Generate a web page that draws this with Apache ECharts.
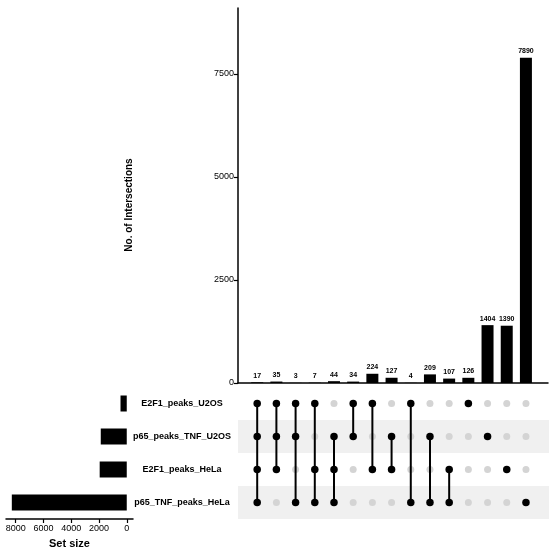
<!DOCTYPE html>
<html>
<head>
<meta charset="utf-8">
<script src="https://cdn.jsdelivr.net/npm/echarts@6/dist/echarts.min.js"></script>
<style>html,body{margin:0;padding:0;background:#fff;}#c{width:549px;height:550px;}</style>
</head>
<body>
<div id="c"></div>
<script>
const sets = ['E2F1_peaks_U2OS', 'p65_peaks_TNF_U2OS', 'E2F1_peaks_HeLa', 'p65_TNF_peaks_HeLa'];
const setSizes = [450, 1873, 1951, 8281];
const intersectionSizes = [17, 35, 3, 7, 44, 34, 224, 127, 4, 209, 107, 126, 1404, 1390, 7890];
const memberships = [[0,1,2,3],[0,1,2],[0,1,3],[0,2,3],[1,2,3],[0,1],[0,2],[1,2],[0,3],[1,3],[2,3],[0],[1],[2],[3]];
const countTicks = [0, 2500, 5000, 7500];
const sizeTicks = [0, 2000, 4000, 6000, 8000];

const FONT = "'Liberation Sans', Arial, Helvetica, sans-serif";
const rowsBottomUp = sets.slice().reverse();
const catOf = r => sets.length - 1 - r;

const barData = intersectionSizes.map((v, i) => [i, v]);
const grayDots = [], blackDots = [], links = [];
memberships.forEach((m, i) => {
  for (let r = 0; r < sets.length; r++) {
    if (m.indexOf(r) >= 0) blackDots.push([i, catOf(r)]);
    else grayDots.push([i, catOf(r)]);
  }
  if (m.length > 1) {
    const cats = m.map(catOf);
    links.push([i, Math.min.apply(null, cats), Math.max.apply(null, cats)]);
  }
});
const sizeData = sets.map((s, r) => [setSizes[r], catOf(r)]);
const plain = v => String(v);

const chart = echarts.init(document.getElementById('c'), null, {renderer: 'canvas'});
chart.setOption({
  animation: false,
  backgroundColor: '#fff',
  textStyle: {fontFamily: FONT},
  grid: [
    {left: 238, top: 8, width: 310, height: 375},
    {left: 238, top: 387, width: 311, height: 132},
    {left: 6, top: 387, width: 127, height: 132}
  ],
  xAxis: [
    {type: 'value', gridIndex: 0, min: -1, max: 15.15,
      axisLine: {show: true, onZero: false, lineStyle: {color: '#000', width: 1.5}},
      axisTick: {show: false}, axisLabel: {show: false}, splitLine: {show: false}},
    {type: 'value', gridIndex: 1, min: -1, max: 15.2,
      axisLine: {show: false}, axisTick: {show: false}, axisLabel: {show: false}, splitLine: {show: false}},
    {type: 'value', gridIndex: 2, inverse: true, min: -450, max: 8700, position: 'bottom',
      axisLine: {show: true, onZero: false, lineStyle: {color: '#000', width: 1.5}},
      axisTick: {show: true, length: 4, customValues: sizeTicks, lineStyle: {color: '#000', width: 1.2}},
      axisLabel: {show: true, customValues: sizeTicks, formatter: plain, fontSize: 9, color: '#000', margin: 5, fontFamily: FONT},
      splitLine: {show: false},
      name: 'Set size', nameLocation: 'middle', nameGap: 19,
      nameTextStyle: {fontSize: 11, fontWeight: 'bold', color: '#000', fontFamily: FONT}}
  ],
  yAxis: [
    {type: 'value', gridIndex: 0, min: 0, max: 9100,
      axisLine: {show: true, onZero: false, lineStyle: {color: '#000', width: 1.5}},
      axisTick: {show: true, length: 4, customValues: countTicks, lineStyle: {color: '#000', width: 1.2}},
      axisLabel: {show: true, customValues: countTicks, formatter: plain, fontSize: 9, color: '#000', margin: 4, fontFamily: FONT},
      splitLine: {show: false}},
    {type: 'category', gridIndex: 1, data: rowsBottomUp,
      axisLine: {show: false}, axisTick: {show: false},
      axisLabel: {show: true, align: 'center', margin: 56, fontSize: 9, fontWeight: 'bold', color: '#000', fontFamily: FONT},
      splitLine: {show: false},
      splitArea: {show: true, areaStyle: {color: ['#f0f0f0', 'rgba(255,255,255,0)']}}},
    {type: 'category', gridIndex: 2, data: rowsBottomUp, show: false}
  ],
  graphic: [
    {type: 'text', x: 129, y: 205, rotation: Math.PI / 2,
      style: {text: 'No. of Intersections', fontSize: 10, fontWeight: 'bold', fill: '#000',
        align: 'center', verticalAlign: 'middle', fontFamily: FONT}}
  ],
  series: [
    {type: 'bar', xAxisIndex: 0, yAxisIndex: 0, data: barData, barWidth: 12,
      itemStyle: {color: '#000'},
      label: {show: true, position: 'top', distance: 3, fontSize: 7, fontWeight: 'bold', color: '#000',
        fontFamily: FONT, formatter: p => String(p.value[1])}},
    {type: 'scatter', xAxisIndex: 1, yAxisIndex: 1, data: grayDots, symbolSize: 7,
      itemStyle: {color: '#d4d4d4', opacity: 1}, z: 2},
    {type: 'custom', xAxisIndex: 1, yAxisIndex: 1, data: links, z: 3,
      renderItem: function (params, api) {
        const a = api.coord([api.value(0), api.value(1)]);
        const b = api.coord([api.value(0), api.value(2)]);
        return {type: 'line', shape: {x1: a[0], y1: a[1], x2: b[0], y2: b[1]},
          style: {stroke: '#000', lineWidth: 2}};
      }},
    {type: 'scatter', xAxisIndex: 1, yAxisIndex: 1, data: blackDots, symbolSize: 7.5,
      itemStyle: {color: '#000', opacity: 1}, z: 4},
    {type: 'bar', xAxisIndex: 2, yAxisIndex: 2, data: sizeData, barWidth: 16,
      itemStyle: {color: '#000'}}
  ]
});
</script>
</body>
</html>
